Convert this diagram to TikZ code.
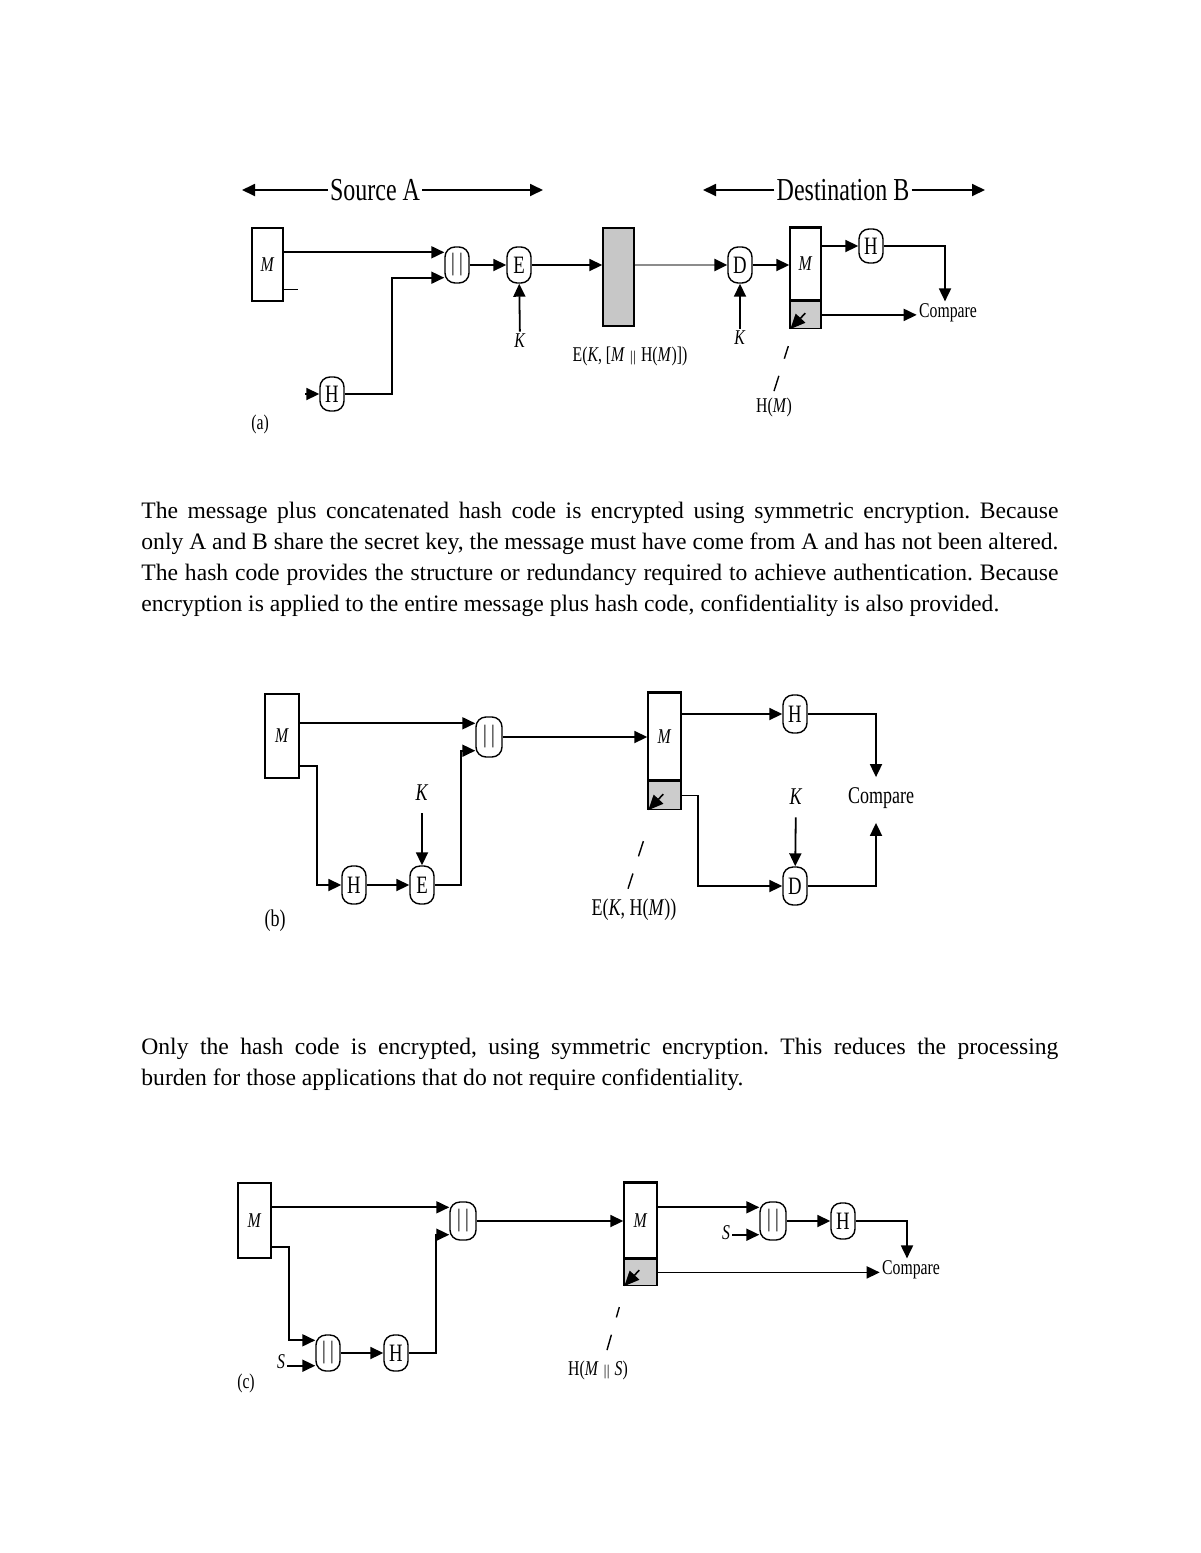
\documentclass[tikz,border=0pt]{standalone}
\usepackage{fontspec}
\setmainfont{Liberation Serif}
\newfontfamily\condfont[FakeStretch=0.75]{Liberation Serif}
\newfontfamily\bodyfont[FakeStretch=1.0]{Liberation Serif}
\usetikzlibrary{positioning,arrows.meta}

\begin{document}
\begin{tikzpicture}[x=0.5pt, y=-0.5pt, font=\condfont\fontsize{10.5}{12}\selectfont,
  box/.style={draw, line width=0.7pt, inner sep=0pt, minimum width=16pt},
  fn/.style={draw, line width=0.7pt, rounded corners=5pt, inner sep=0pt, minimum width=12pt, minimum height=18pt, font=\condfont\fontsize{12.5}{13}\selectfont},
  arr/.style={-{Triangle[length=6.5pt, width=6pt]}, line width=0.9pt},
  ptr/.style={line width=0.7pt, dash pattern=on 8pt off 9pt},
  tip/.style={-{Triangle[length=7.5pt, width=6.5pt]}, line width=0.8pt},
  lbl/.style={inner sep=1pt},
  para/.style={anchor=north west, inner sep=0pt, text width=458.5pt, align=justify, font=\bodyfont\fontsize{11.8}{15.5}\selectfont\frenchspacing}]
\useasboundingbox (0,0) rectangle (1200,1553);

% (a) encrypt message plus hash
\node[lbl, font=\condfont\fontsize{16}{17}\selectfont] (srcA) at (375,190) {Source A};
\node[lbl, font=\condfont\fontsize{16}{17}\selectfont] (dstB) at (843,190) {Destination B};
\coordinate (srcL) at (242,190);
\coordinate (srcR) at (543,190);
\coordinate (dstL) at (703,190);
\coordinate (dstR) at (985,190);
\draw[arr] (srcA) -- (srcL);
\draw[arr] (srcA) -- (srcR);
\draw[arr] (dstB) -- (dstL);
\draw[arr] (dstB) -- (dstR);

\node[box, minimum width=15.5pt, minimum height=36.5pt] (mA) at (267.5,264.5) {\textit{M}};
\node[fn] (catA) at (457,265) {|\,|};
\node[fn, minimum height=17pt] (hA) at (332,394) {H};
\node[fn] (eA) at (519,265) {E};
\node[lbl] (kA) at (520,341) {\textit{K}};
\node[box, fill=black!22, minimum width=15.5pt, minimum height=49pt] (cph) at (618.5,277) {};
\node[lbl] (cphLbl) at (630,356) {E(\textit{K}, [\textit{M} {\scriptsize$\|$} H(\textit{M})])};
\node[fn] (dA) at (740,265) {D};
\node[lbl] (kD) at (740,338) {\textit{K}};
\node[box, minimum width=15.5pt, minimum height=36pt] (mB) at (805.5,264) {\textit{M}};
\node[box, fill=black!20, minimum width=15.5pt, minimum height=13.5pt, below=0pt of mB] (hB) {};
\node[fn, minimum height=17pt] (hD) at (871,246) {H};
\node[lbl] (cmpA) at (948,313) {Compare};
\node[lbl] (hmA) at (774,407) {H(\textit{M})};
\node[lbl] (tagA) at (260,424) {(a)};

\draw[arr] (mA.east|-catA.135) -- (catA.135);
\draw ([yshift=6pt]mA.south east) -- ++(14,0);
\draw[arr] ([xshift=-7pt]hA.west) -- (hA.west);
\draw[arr] (hA.east) -- ++(47,0) |- (catA.225);
\draw[arr] (catA) -- (eA);
\draw[arr] (kA) -- (eA);
\draw[arr] (eA) -- (eA-|cph.west);
\draw[arr, draw=black!45, line width=1.4pt, -{Triangle[length=6.5pt, width=6pt, color=black]}] (cph.east|-dA) -- (dA);
\draw[arr] (kD) -- (dA);
\draw[arr] (dA) -- (dA-|mB.west);
\draw[arr] (mB.east|-hD) -- (hD);
\draw[arr] (hD) -| ([xshift=-1.5pt]cmpA.north);
\draw[arr] (hB) -- (hB-|cmpA.west);
\draw[ptr] ([yshift=2pt]hmA.north) -- ([xshift=-0.5pt, yshift=-8.5pt]hB.south west);
\draw[tip] ([xshift=8pt, yshift=8pt]hB.south west) -- ([xshift=0.5pt]hB.south west);

\node[para] (txtA) at (141,502) {The message plus concatenated hash code is encrypted using symmetric encryption. Because\linebreak
only A and B share the secret key, the message must have come from A and has not been altered.\linebreak
The hash code provides the structure or redundancy required to achieve authentication. Because\linebreak
encryption is applied to the entire message plus hash code, confidentiality is also provided.};

% (b) encrypt only the hash
\node[box, minimum width=17pt, minimum height=42pt] (mb) at (282,736) {\textit{M}};
\node[fn, minimum width=13pt, minimum height=20pt] (catB) at (489,737) {|\,|};
\node[fn, minimum height=19pt] (hb) at (354,885) {H};
\node[fn, minimum height=19pt] (eb) at (422,885) {E};
\node[lbl, font=\condfont\fontsize{12}{14}\selectfont] (kb) at (422,793) {\textit{K}};
\node[box, minimum width=16.5pt, minimum height=43.5pt] (mB2) at (664.5,736.5) {\textit{M}};
\node[box, fill=black!20, minimum width=16.5pt, minimum height=14pt, below=0pt of mB2] (hB2) {};
\node[fn, minimum height=19pt] (hd) at (795,714) {H};
\node[fn, minimum height=19pt] (dd) at (795,886) {D};
\node[lbl, font=\condfont\fontsize{12}{14}\selectfont] (kd) at (796,797) {\textit{K}};
\node[lbl, font=\condfont\fontsize{12}{14}\selectfont] (cmpB) at (881,798) {Compare};
\node[lbl, font=\condfont\fontsize{12}{14}\selectfont] (ekh) at (634,910) {E(\textit{K}, H(\textit{M}))};
\node[lbl, font=\condfont\fontsize{12}{14}\selectfont] (tagB) at (275,921) {(b)};

\draw[arr] (mb.east|-catB.135) -- (catB.135);
\draw[arr] ([yshift=6.5pt]mb.south east) -- ++(17,0) |- (hb);
\draw[arr] (hb) -- (eb);
\draw[arr, shorten <=5pt] (kb) -- (eb);
\draw[arr] (eb.east) -- ++(26,0) |- (catB.225);
\draw[arr] (catB) -- (catB-|mB2.west);
\draw[arr] (mB2.east|-hd) -- (hd);
\draw[arr, shorten >=4pt] (hd) -| ([xshift=-2.5pt]cmpB.north);
\draw[arr] (hB2.east) -- ++(16,0) |- (dd);
\draw[arr, shorten <=5pt] (kd) -- (dd);
\draw[arr, shorten >=6pt] (dd) -| ([xshift=-2.5pt]cmpB.south);
\draw[ptr] ([xshift=-3pt, yshift=4pt]ekh.north) -- ([xshift=-0.5pt, yshift=-11pt]hB2.south west);
\draw[tip] ([xshift=8pt, yshift=8pt]hB2.south west) -- ([xshift=0.5pt]hB2.south west);

\node[para] (txtB) at (141,1038) {Only the hash code is encrypted, using symmetric encryption. This reduces the processing\linebreak
burden for those applications that do not require confidentiality.};

% (c) hash over message and secret
\node[box, minimum width=16.5pt, minimum height=37.5pt] (mc) at (254.5,1220.5) {\textit{M}};
\node[fn, minimum width=13pt, minimum height=19pt] (catC) at (463,1221) {|\,|};
\node[fn, minimum height=18pt] (catS) at (328,1353) {|\,|};
\node[lbl] (sA) at (281,1362) {\textit{S}};
\node[fn, minimum height=18pt] (hc) at (396,1353) {H};
\node[box, minimum width=16.5pt, minimum height=37.5pt] (mC2) at (640.5,1220.5) {\textit{M}};
\node[box, fill=black!20, minimum width=16.5pt, minimum height=13pt, below=0pt of mC2] (hC2) {};
\node[fn, minimum width=13pt, minimum height=19pt] (cat2) at (773,1221) {|\,|};
\node[lbl] (s2) at (726,1233) {\textit{S}};
\node[fn, minimum height=18pt] (h2) at (843,1221) {H};
\node[lbl] (cmpC) at (911,1270) {Compare};
\node[lbl] (hms) at (598,1370) {H(\textit{M} {\scriptsize$\|$} \textit{S})};
\node[lbl] (tagC) at (246,1383) {(c)};

\draw[arr] (mc.east|-catC.135) -- (catC.135);
\draw[arr] ([yshift=6pt]mc.south east) -- ++(17,0) |- (catS.135);
\draw[arr] (sA.east|-catS.225) -- (catS.225);
\draw[arr] (catS) -- (hc);
\draw[arr] (hc.east) -- ++(27,0) |- (catC.225);
\draw[arr] (catC) -- (catC-|mC2.west);
\draw[arr] (mC2.east|-cat2.135) -- (cat2.135);
\draw[arr] (s2.east|-cat2.225) -- (cat2.225);
\draw[arr] (cat2) -- (h2);
\draw[arr] (h2) -| ([xshift=-2pt]cmpC.north);
\draw[arr] (hC2) -- (hC2-|cmpC.west);
\draw[ptr] ([xshift=4.5pt, yshift=4pt]hms.north) -- ([xshift=-2pt, yshift=-10.5pt]hC2.south west);
\draw[tip] ([xshift=8pt, yshift=8pt]hC2.south west) -- ([xshift=0.5pt]hC2.south west);

% heavier top edge and divider on the received blocks
\foreach \b in {mB,mB2,mC2}
  \draw[line width=1.3pt] (\b.north west) -- (\b.north east) (\b.south west) -- (\b.south east);
\end{tikzpicture}
\end{document}
